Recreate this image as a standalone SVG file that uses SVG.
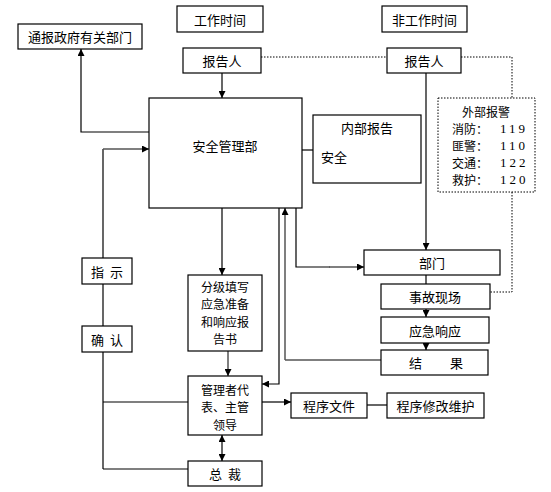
<svg xmlns="http://www.w3.org/2000/svg" width="551" height="492" viewBox="0 0 551 492">
<defs>
<marker id="arr" viewBox="0 0 8 8" refX="8" refY="4" markerWidth="7" markerHeight="7" markerUnits="userSpaceOnUse" orient="auto-start-reverse">
<path d="M0,0 L8,4 L0,8 z" fill="#000"/>
</marker>
<style>
.box{fill:#fff;stroke:#000;stroke-width:1.2}
.dbox{fill:#fff;stroke:#000;stroke-width:1;stroke-dasharray:1.5,1.5}
.t{font-family:"Noto Sans CJK SC","Liberation Sans",sans-serif;font-size:13px;fill:#000;dominant-baseline:central}
.m{font-size:12px}
.c{text-anchor:middle}
.ln{fill:none;stroke:#000;stroke-width:1.2}
.gl{fill:none;stroke:#555;stroke-width:1.5}
.dl{fill:none;stroke:#000;stroke-width:1;stroke-dasharray:1.5,1.5}
.n{font-family:"Liberation Serif",serif;font-size:13px;fill:#000;dominant-baseline:central;letter-spacing:3px}
</style>
</defs>
<rect width="551" height="492" fill="#fff"/>
<g id="connectors">
<polyline class="ln" points="149,132 81,132 81,49" marker-end="url(#arr)"/>
<line class="ln" x1="222" y1="73" x2="222" y2="98" marker-end="url(#arr)"/>
<line class="ln" x1="426" y1="73" x2="426" y2="250" marker-end="url(#arr)"/>
<polyline class="dl" points="261,57 387,57"/>
<polyline class="dl" points="461,57 512,57 512,98"/>
<polyline class="dl" points="512,192 512,292 490,292"/>
<line class="ln" x1="302" y1="150" x2="313" y2="150"/>
<polyline class="ln" points="103,469 103,149"/>
<line class="gl" x1="103" y1="149" x2="149" y2="149" marker-end="url(#arr)"/>
<line class="ln" x1="222" y1="208" x2="222" y2="275" marker-end="url(#arr)"/>
<polyline class="ln" points="296,208 296,267 330,267"/>
<line class="gl" x1="329" y1="267" x2="364" y2="267" marker-end="url(#arr)"/>
<polyline class="ln" points="279,208 279,384 262,384" marker-end="url(#arr)"/>
<polyline class="ln" points="381,360 285,360"/>
<line class="gl" x1="285" y1="360" x2="285" y2="208" marker-end="url(#arr)"/>
<line class="ln" x1="426" y1="275" x2="426" y2="284"/>
<line class="ln" x1="426" y1="309" x2="426" y2="317" marker-end="url(#arr)"/>
<line class="ln" x1="426" y1="343" x2="426" y2="350" marker-end="url(#arr)"/>
<line class="gl" x1="228" y1="351" x2="228" y2="376" marker-end="url(#arr)"/>
<line class="ln" x1="103" y1="402" x2="188" y2="402"/>
<line class="ln" x1="103" y1="469" x2="188" y2="469"/>
<line class="ln" x1="222" y1="435" x2="222" y2="461" marker-start="url(#arr)" marker-end="url(#arr)"/>
<line class="ln" x1="262" y1="402" x2="291" y2="402" marker-end="url(#arr)"/>
<line class="ln" x1="367" y1="405" x2="387" y2="405"/>
</g>
<g id="work-time"><rect class="box" x="177" y="6" width="86" height="26"/><text class="t c" x="220" y="19">工作时间</text></g>
<g id="nonwork-time"><rect class="box" x="382" y="6" width="85" height="26"/><text class="t c" x="424.5" y="19">非工作时间</text></g>
<g id="notify-gov"><rect class="box" x="18" y="24" width="124" height="25"/><text class="t c" x="80" y="36.5">通报政府有关部门</text></g>
<g id="reporter-left"><rect class="box" x="183" y="48" width="78" height="25"/><text class="t c" x="222" y="60.5">报告人</text></g>
<g id="reporter-right"><rect class="box" x="387" y="48" width="74" height="25"/><text class="t c" x="424" y="60.5">报告人</text></g>
<g id="safety-dept"><rect class="box" x="149" y="98" width="153" height="110"/><text class="t c" x="225" y="145">安全管理部</text></g>
<g id="internal-report"><rect class="box" x="313" y="115" width="108" height="68"/><text class="t c" x="367" y="127">内部报告</text><text class="t" x="321" y="156">安全</text></g>
<g id="external-alarm"><rect class="dbox" x="438" y="98" width="97" height="94"/>
<text class="t c m" x="486" y="111">外部报警</text>
<text class="t m" x="452" y="128">消防：</text><text class="n" x="500" y="128">119</text>
<text class="t m" x="452" y="145">匪警：</text><text class="n" x="500" y="145">110</text>
<text class="t m" x="452" y="162">交通：</text><text class="n" x="500" y="162">122</text>
<text class="t m" x="452" y="179">救护：</text><text class="n" x="500" y="179">120</text>
</g>
<g id="dept"><rect class="box" x="364" y="250" width="136" height="25"/><text class="t c" x="432" y="262.5">部门</text></g>
<g id="scene"><rect class="box" x="381" y="284" width="109" height="25"/><text class="t c" x="435" y="296.5">事故现场</text></g>
<g id="response"><rect class="box" x="381" y="317" width="108" height="26"/><text class="t c" x="435" y="330">应急响应</text></g>
<g id="result"><rect class="box" x="381" y="350" width="107" height="25"/><text class="t" x="409" y="362.5">结</text><text class="t" x="450" y="362.5">果</text></g>
<g id="instruct"><rect class="box" x="82" y="258" width="50" height="26"/><text class="t c" x="107" y="271" xml:space="preserve">指  示</text></g>
<g id="confirm"><rect class="box" x="82" y="326" width="50" height="26"/><text class="t c" x="107" y="339" xml:space="preserve">确  认</text></g>
<g id="grading"><rect class="box" x="188" y="275" width="74" height="76"/>
<text class="t c m" x="225" y="286">分级填写</text><text class="t c m" x="225" y="303.5">应急准备</text><text class="t c m" x="225" y="321">和响应报</text><text class="t c m" x="225" y="338.5">告书</text></g>
<g id="management"><rect class="box" x="188" y="376" width="74" height="59"/>
<text class="t c m" x="225" y="389">管理者代</text><text class="t c m" x="225" y="406.5">表、主管</text><text class="t c m" x="225" y="424">领导</text></g>
<g id="procedure"><rect class="box" x="291" y="393" width="76" height="25"/><text class="t c" x="329" y="405.5">程序文件</text></g>
<g id="procedure-maint"><rect class="box" x="387" y="393" width="97" height="25"/><text class="t c" x="435.5" y="405.5">程序修改维护</text></g>
<g id="president"><rect class="box" x="188" y="461" width="74" height="25"/><text class="t c" x="225" y="473.5" xml:space="preserve">总  裁</text></g>
</svg>
